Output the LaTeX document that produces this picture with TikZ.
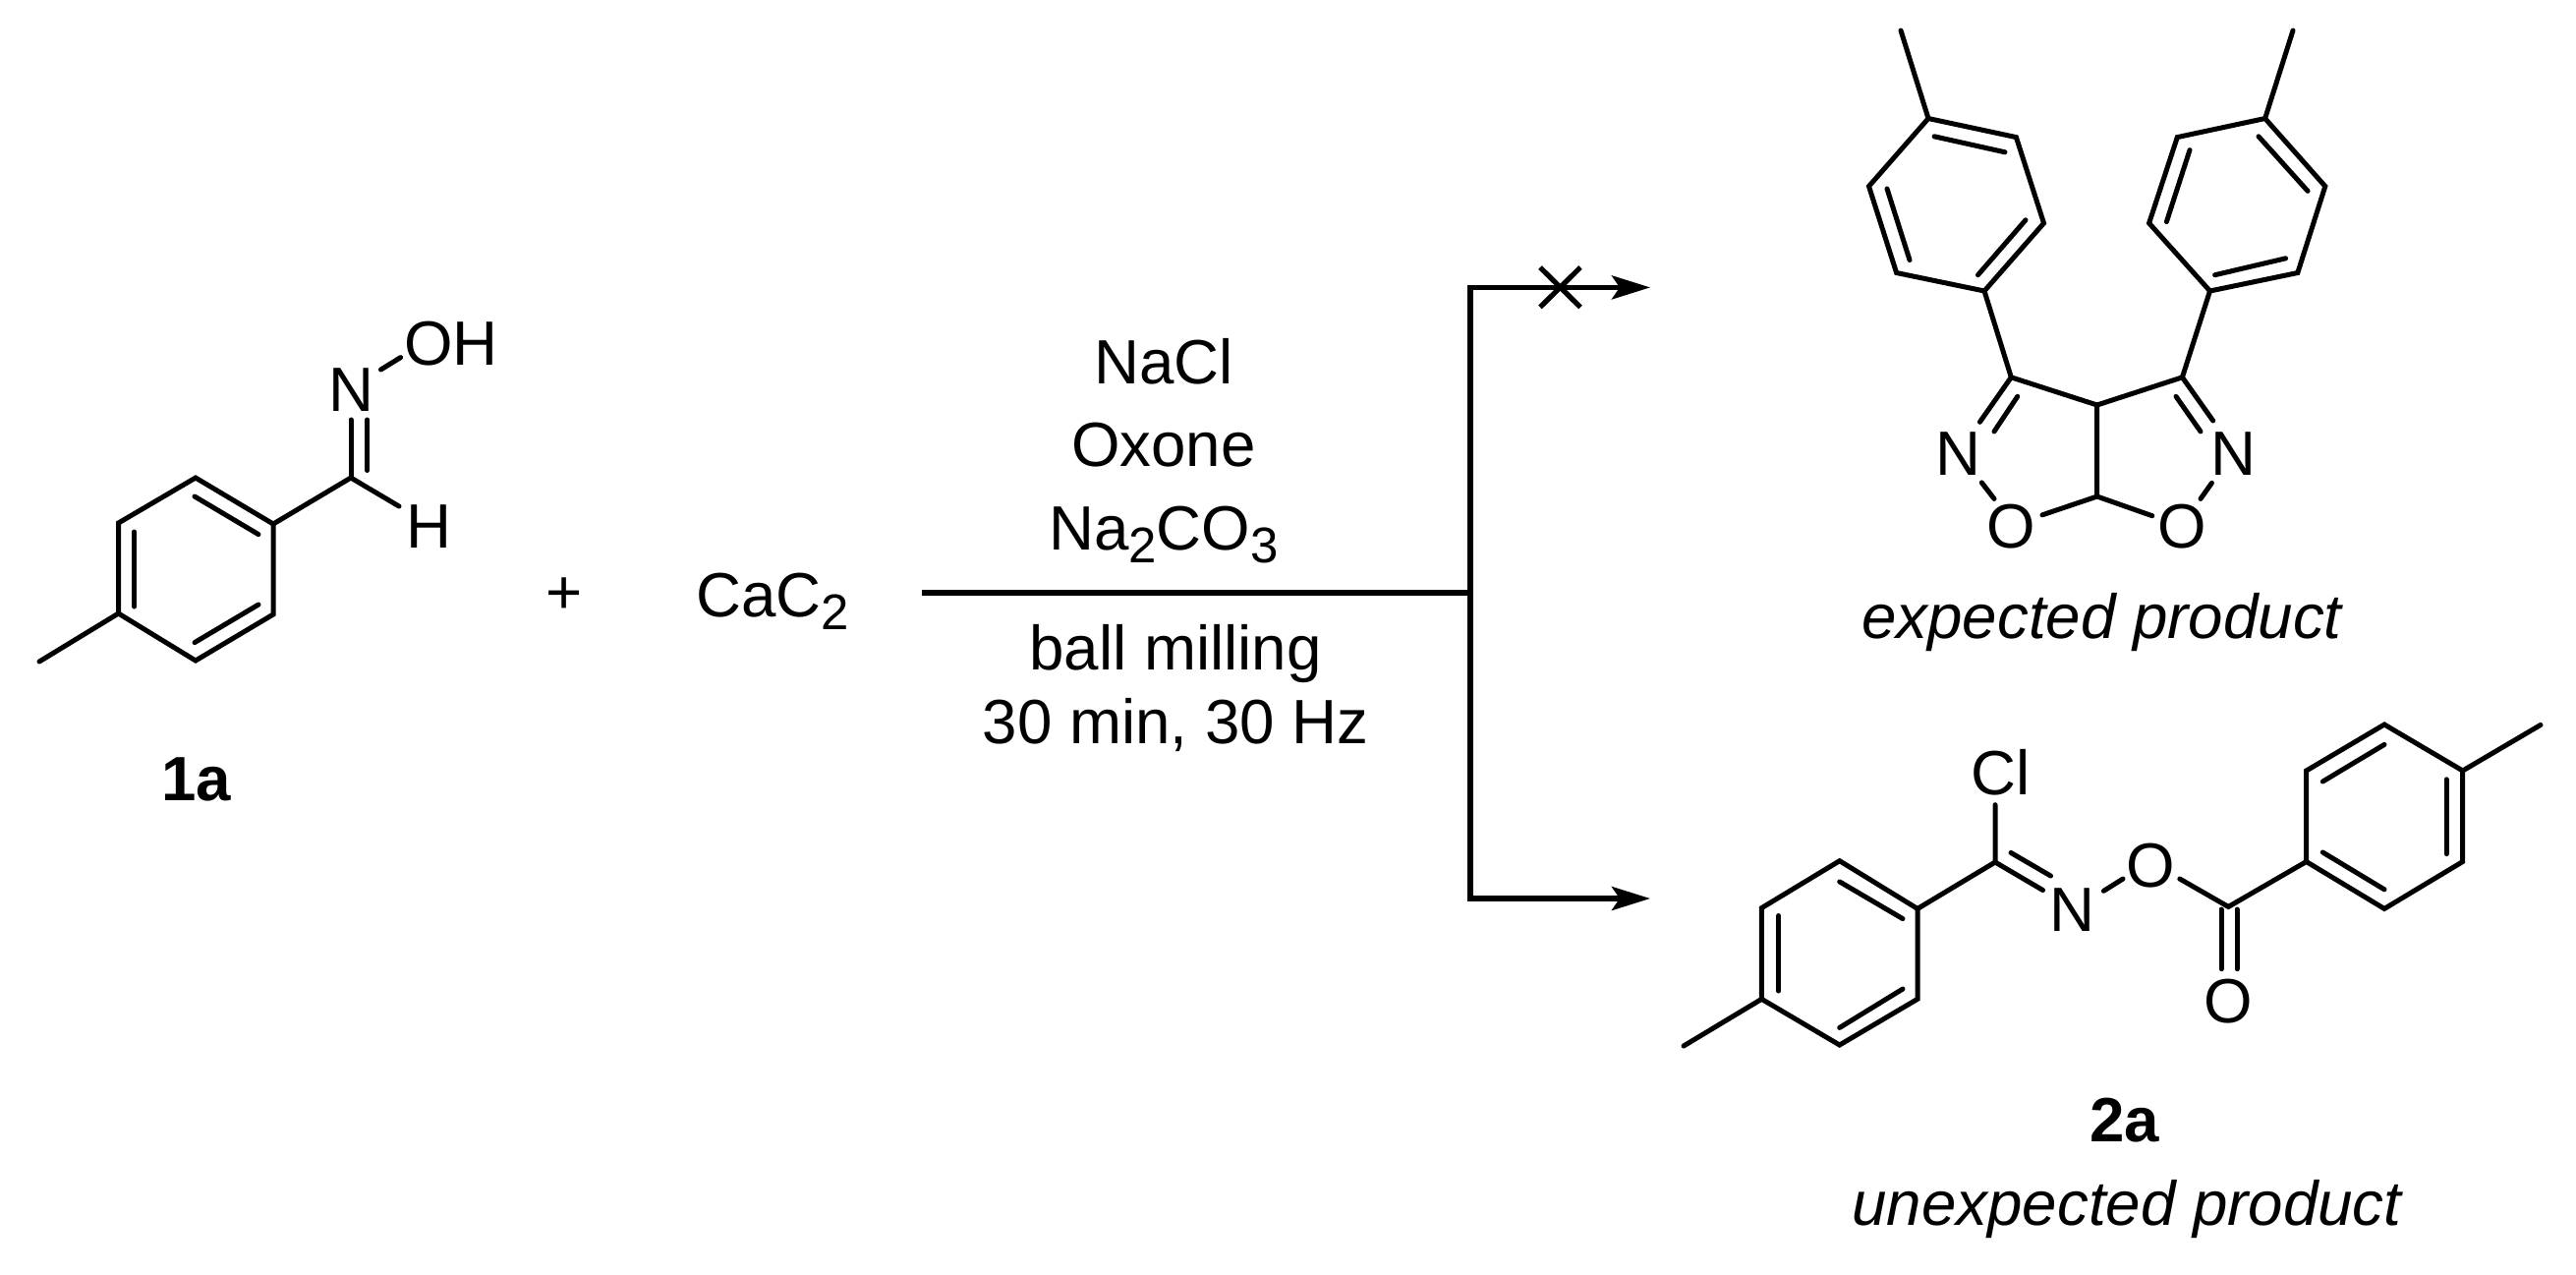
\documentclass[tikz,border=0pt]{standalone}
\usepackage{fontspec}
\setmainfont{Liberation Sans}
\usetikzlibrary{arrows.meta}
\newcommand{\sbs}[1]{\raisebox{-1.3mm}{\fontsize{14.5}{15}\selectfont #1}}
\tikzset{
  bond/.style={line width=0.5mm,line join=miter,line cap=round,black},
  rxn/.style={line width=0.52mm,line join=miter,black},
  rxnhead/.style={rxn,-{Stealth[length=3.9mm,width=2.4mm,inset=0.8mm]}},
  lab/.style={anchor=base,inner sep=0pt,outer sep=0pt,font=\fontsize{18.1}{20}\selectfont},
}
\begin{document}
\begin{tikzpicture}[x=0.01cm,y=-0.01cm]
\useasboundingbox (0,0) rectangle (2621,1296);
% ---------- 1a ----------
\coordinate (a1) at (199,486);
\coordinate (a2) at (278,533);
\coordinate (a3) at (278,625);
\coordinate (a4) at (199,672);
\coordinate (a5) at (120.5,624);
\coordinate (a6) at (120.5,532);
\coordinate (ame) at (40,673);
\coordinate (ac) at (357,486);
\coordinate (ahe) at (406,515);
\coordinate (an1) at (357,427);
\coordinate (an2a) at (373.7,427);
\coordinate (an2b) at (373.7,478.5);
\coordinate (ano1) at (387.5,376);
\coordinate (ano2) at (407.6,363.6);
\coordinate (ai1a) at (198,505);
\coordinate (ai1b) at (263,543.6);
\coordinate (ai2a) at (136.6,541);
\coordinate (ai2b) at (136.6,617);
\coordinate (ai3a) at (198,653.6);
\coordinate (ai3b) at (263,615);
\draw[bond] (a1) -- (a2) -- (a3) -- (a4) -- (a5) -- (a6) -- cycle;
\draw[bond] (a5) -- (ame);
\draw[bond] (a2) -- (ac) -- (ahe);
\draw[bond] (ac) -- (an1);
\draw[bond] (an2a) -- (an2b);
\draw[bond] (ano1) -- (ano2);
\draw[bond] (ai1a) -- (ai1b);
\draw[bond] (ai2a) -- (ai2b);
\draw[bond] (ai3a) -- (ai3b);
\node[lab] (aN) at (357,418) {N};
\node[lab] (aOH) at (459,371) {OH};
\node[lab] (aH) at (436,557) {H};
\node[lab] (lab1a) at (200,814) {\bfseries 1a};
\node[lab] (plus) at (574,624) {+};
\node[lab] (cac) at (786,627) {CaC\sbs{2}};
% ---------- conditions ----------
\node[lab] (c1) at (1184,390.6) {NaCl};
\node[lab] (c2) at (1184,474.5) {Oxone};
\node[lab] (c3) at (1184,559) {Na\sbs{2}CO\sbs{3}};
\node[lab] (c4) at (1196,681) {ball milling};
\node[lab] (c5) at (1196,756) {30 min, 30 Hz};
% ---------- reaction arrows ----------
\coordinate (rs) at (938,603);
\coordinate (rb) at (1496,603);
\coordinate (rt) at (1496,292.4);
\coordinate (rd) at (1496,914);
\coordinate (rte) at (1679,292.4);
\coordinate (rde) at (1679,914);
\coordinate (x1) at (1567,272);
\coordinate (x2) at (1608,312.5);
\coordinate (x3) at (1608,272);
\coordinate (x4) at (1567,312.5);
\draw[rxn] (rs) -- (rb);
\draw[rxnhead] (rb) -- (rt) -- (rte);
\draw[rxnhead] (rb) -- (rd) -- (rde);
\draw[rxn] (x1) -- (x2);
\draw[rxn] (x3) -- (x4);
% ---------- expected product ----------
\coordinate (b1) at (1962,120.5);
\coordinate (b2) at (2051.4,139.6);
\coordinate (b3) at (2079.5,227);
\coordinate (b4) at (2019,296);
\coordinate (b5) at (1929.6,277.5);
\coordinate (b6) at (1901.5,189.5);
\coordinate (bme) at (1934,31);
\coordinate (bi1a) at (1968,138.8);
\coordinate (bi1b) at (2040,154.8);
\coordinate (bi2a) at (1920,192);
\coordinate (bi2b) at (1943,264.5);
\coordinate (bi3a) at (2061,223.8);
\coordinate (bi3b) at (2012.5,279.7);
\coordinate (bc3) at (2046.3,383.8);
\coordinate (cc) at (2133.7,412);
\coordinate (cb) at (2133.7,505);
\coordinate (bn1) at (2014.4,429.3);
\coordinate (bn2a) at (2052.7,403.3);
\coordinate (bn2b) at (2029,438.9);
\coordinate (bno1) at (2016.3,490.9);
\coordinate (bno2) at (2029,507.4);
\coordinate (boc) at (2078,523.8);
\draw[bond] (b1) -- (b2) -- (b3) -- (b4) -- (b5) -- (b6) -- cycle;
\draw[bond] (b1) -- (bme);
\draw[bond] (b4) -- (bc3);
\draw[bond] (bi1a) -- (bi1b);
\draw[bond] (bi2a) -- (bi2b);
\draw[bond] (bi3a) -- (bi3b);
\draw[bond] (bn1) -- (bc3) -- (cc) -- (cb) -- (boc);
\draw[bond] (bn2a) -- (bn2b);
\draw[bond] (bno1) -- (bno2);
\coordinate (d1) at (2304.6,120.5);
\coordinate (d2) at (2215.3,139.6);
\coordinate (d3) at (2186.6,227);
\coordinate (d4) at (2248.5,296);
\coordinate (d5) at (2337.8,277.5);
\coordinate (d6) at (2365.8,189.5);
\coordinate (dme) at (2333,31);
\coordinate (di1a) at (2298,138.8);
\coordinate (di1b) at (2348,194.3);
\coordinate (di2a) at (2228,152.6);
\coordinate (di2b) at (2204.4,225.5);
\coordinate (di3a) at (2253.6,279.7);
\coordinate (di3b) at (2325.6,262.8);
\coordinate (dc3) at (2220.4,383.8);
\coordinate (dn1) at (2251.7,428);
\coordinate (dn2a) at (2214,403.3);
\coordinate (dn2b) at (2239,438.9);
\coordinate (dno1) at (2250.4,491.3);
\coordinate (dno2) at (2239,507.4);
\coordinate (doc) at (2189.8,524.7);
\draw[bond] (d1) -- (d2) -- (d3) -- (d4) -- (d5) -- (d6) -- cycle;
\draw[bond] (d1) -- (dme);
\draw[bond] (d4) -- (dc3);
\draw[bond] (di1a) -- (di1b);
\draw[bond] (di2a) -- (di2b);
\draw[bond] (di3a) -- (di3b);
\draw[bond] (dn1) -- (dc3) -- (cc);
\draw[bond] (cb) -- (doc);
\draw[bond] (dn2a) -- (dn2b);
\draw[bond] (dno1) -- (dno2);
\node[lab] (bN) at (1992.7,483) {N};
\node[lab] (bO) at (2046.3,557) {O};
\node[lab] (dN) at (2272.7,483) {N};
\node[lab] (dO) at (2219.8,557) {O};
\node[lab] (exp) at (2138.5,649) {\itshape expected product};
% ---------- 2a ----------
\coordinate (e1) at (1871.7,875.7);
\coordinate (e2) at (1951,924.4);
\coordinate (e3) at (1951,1016.3);
\coordinate (e4) at (1871.7,1063);
\coordinate (e5) at (1792.4,1016.3);
\coordinate (e6) at (1792.4,923.6);
\coordinate (eme) at (1713,1064);
\coordinate (ei1a) at (1809.8,931.5);
\coordinate (ei1b) at (1809.8,1008);
\coordinate (ei2a) at (1871.7,896.9);
\coordinate (ei2b) at (1936,934.6);
\coordinate (ei3a) at (1871.7,1045.4);
\coordinate (ei3b) at (1936,1006);
\coordinate (ecl) at (2030,877);
\coordinate (ecltop) at (2030,818.7);
\coordinate (en1) at (2078.5,905.5);
\coordinate (en2a) at (2046,867.4);
\coordinate (en2b) at (2086.5,891);
\coordinate (eno1) at (2140.4,906.3);
\coordinate (eno2) at (2160,894);
\coordinate (eoc) at (2217.8,894);
\coordinate (eco) at (2267.3,922.4);
\coordinate (eo1a) at (2260,925);
\coordinate (eo1b) at (2260,985.7);
\coordinate (eo2a) at (2276,925);
\coordinate (eo2b) at (2276,985.7);
\coordinate (f1) at (2346.6,876.5);
\coordinate (f2) at (2346.6,784);
\coordinate (f3) at (2426,737);
\coordinate (f4) at (2505.7,784);
\coordinate (f5) at (2505.7,876.5);
\coordinate (f6) at (2426,924.4);
\coordinate (fme) at (2585,737.4);
\coordinate (fi1a) at (2363.3,795);
\coordinate (fi1b) at (2426,757.4);
\coordinate (fi2a) at (2489,792.8);
\coordinate (fi2b) at (2489,868.6);
\coordinate (fi3a) at (2363.3,867);
\coordinate (fi3b) at (2426,904.8);
\draw[bond] (e1) -- (e2) -- (e3) -- (e4) -- (e5) -- (e6) -- cycle;
\draw[bond] (e5) -- (eme);
\draw[bond] (ei1a) -- (ei1b);
\draw[bond] (ei2a) -- (ei2b);
\draw[bond] (ei3a) -- (ei3b);
\draw[bond] (e2) -- (ecl) -- (ecltop);
\draw[bond] (ecl) -- (en1);
\draw[bond] (en2a) -- (en2b);
\draw[bond] (eno1) -- (eno2);
\draw[bond] (eoc) -- (eco) -- (f1);
\draw[bond] (eo1a) -- (eo1b);
\draw[bond] (eo2a) -- (eo2b);
\draw[bond] (f1) -- (f2) -- (f3) -- (f4) -- (f5) -- (f6) -- cycle;
\draw[bond] (f4) -- (fme);
\draw[bond] (fi1a) -- (fi1b);
\draw[bond] (fi2a) -- (fi2b);
\draw[bond] (fi3a) -- (fi3b);
\node[lab] (eCl) at (2036,808.5) {Cl};
\node[lab] (eN) at (2108,947) {N};
\node[lab] (eO) at (2188,902) {O};
\node[lab] (eOd) at (2267.3,1040) {O};
\node[lab] (lab2a) at (2161.6,1161) {\bfseries 2a};
\node[lab] (unexp) at (2164,1246) {\itshape unexpected product};
\end{tikzpicture}
\end{document}
